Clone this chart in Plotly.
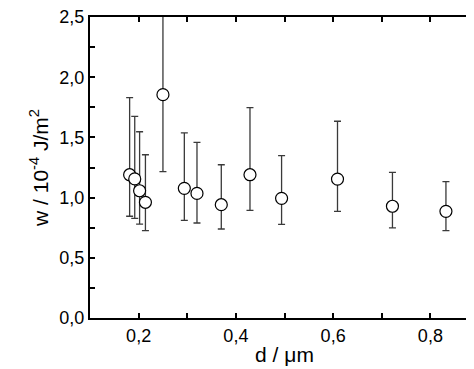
import plotly.graph_objects as go

d_um = [0.1815, 0.192, 0.202, 0.214, 0.250, 0.294, 0.320, 0.370, 0.429, 0.494, 0.609, 0.722, 0.832]
w = [1.19, 1.155, 1.057, 0.961, 1.855, 1.077, 1.035, 0.941, 1.19, 0.994, 1.154, 0.928, 0.886]
err_top = [1.83, 1.675, 1.547, 1.356, 2.9, 1.537, 1.459, 1.273, 1.747, 1.348, 1.634, 1.21, 1.132]
err_bot = [0.845, 0.828, 0.78, 0.725, 1.215, 0.811, 0.789, 0.739, 0.894, 0.778, 0.886, 0.748, 0.725]

plus = [t - v for t, v in zip(err_top, w)]
minus = [v - b for v, b in zip(w, err_bot)]

fig = go.Figure(go.Scatter(
    x=d_um, y=w, mode="markers",
    marker=dict(symbol="circle", size=12, color="white", line=dict(color="black", width=1.2)),
    error_y=dict(type="data", symmetric=False, array=plus, arrayminus=minus,
                 color="#3a3a3a", thickness=1.3, width=3.5),
    cliponaxis=True,
))

axis_common = dict(showline=True, linecolor="black", linewidth=2, mirror="ticks",
                   ticks="inside", ticklen=5, tickwidth=1.5, tickcolor="black",
                   showgrid=False, zeroline=False, automargin=False,
                   ticklabeloverflow="allow",
                   tickfont=dict(family="Liberation Sans, Arial", size=18, color="black"))

fig.update_xaxes(range=[0.1, 0.9], dtick=0.2, tick0=0.2, tickformat=".1f",
                 minor=dict(dtick=0.1, tick0=0.1, ticks="inside", ticklen=5, tickcolor="black", tickwidth=1.5),
                 title=dict(text="d / μm", font=dict(family="Liberation Sans, Arial", size=21, color="black"), standoff=3),
                 **axis_common)
fig.update_yaxes(range=[0, 2.5], dtick=0.5, tick0=0, tickformat=".1f",
                 minor=dict(dtick=0.25, tick0=0, ticks="inside", ticklen=5, tickcolor="black", tickwidth=1.5),
                 title=dict(text="w / 10<sup>-4</sup> J/m<sup>2</sup>", font=dict(family="Liberation Sans, Arial", size=21, color="black"), standoff=5),
                 **axis_common)

fig.update_layout(width=474, height=369, separators=",.",
                  margin=dict(l=82, r=3, t=9, b=59, autoexpand=False),
                  plot_bgcolor="white", paper_bgcolor="white", showlegend=False)

fig.write_html("out.html")
